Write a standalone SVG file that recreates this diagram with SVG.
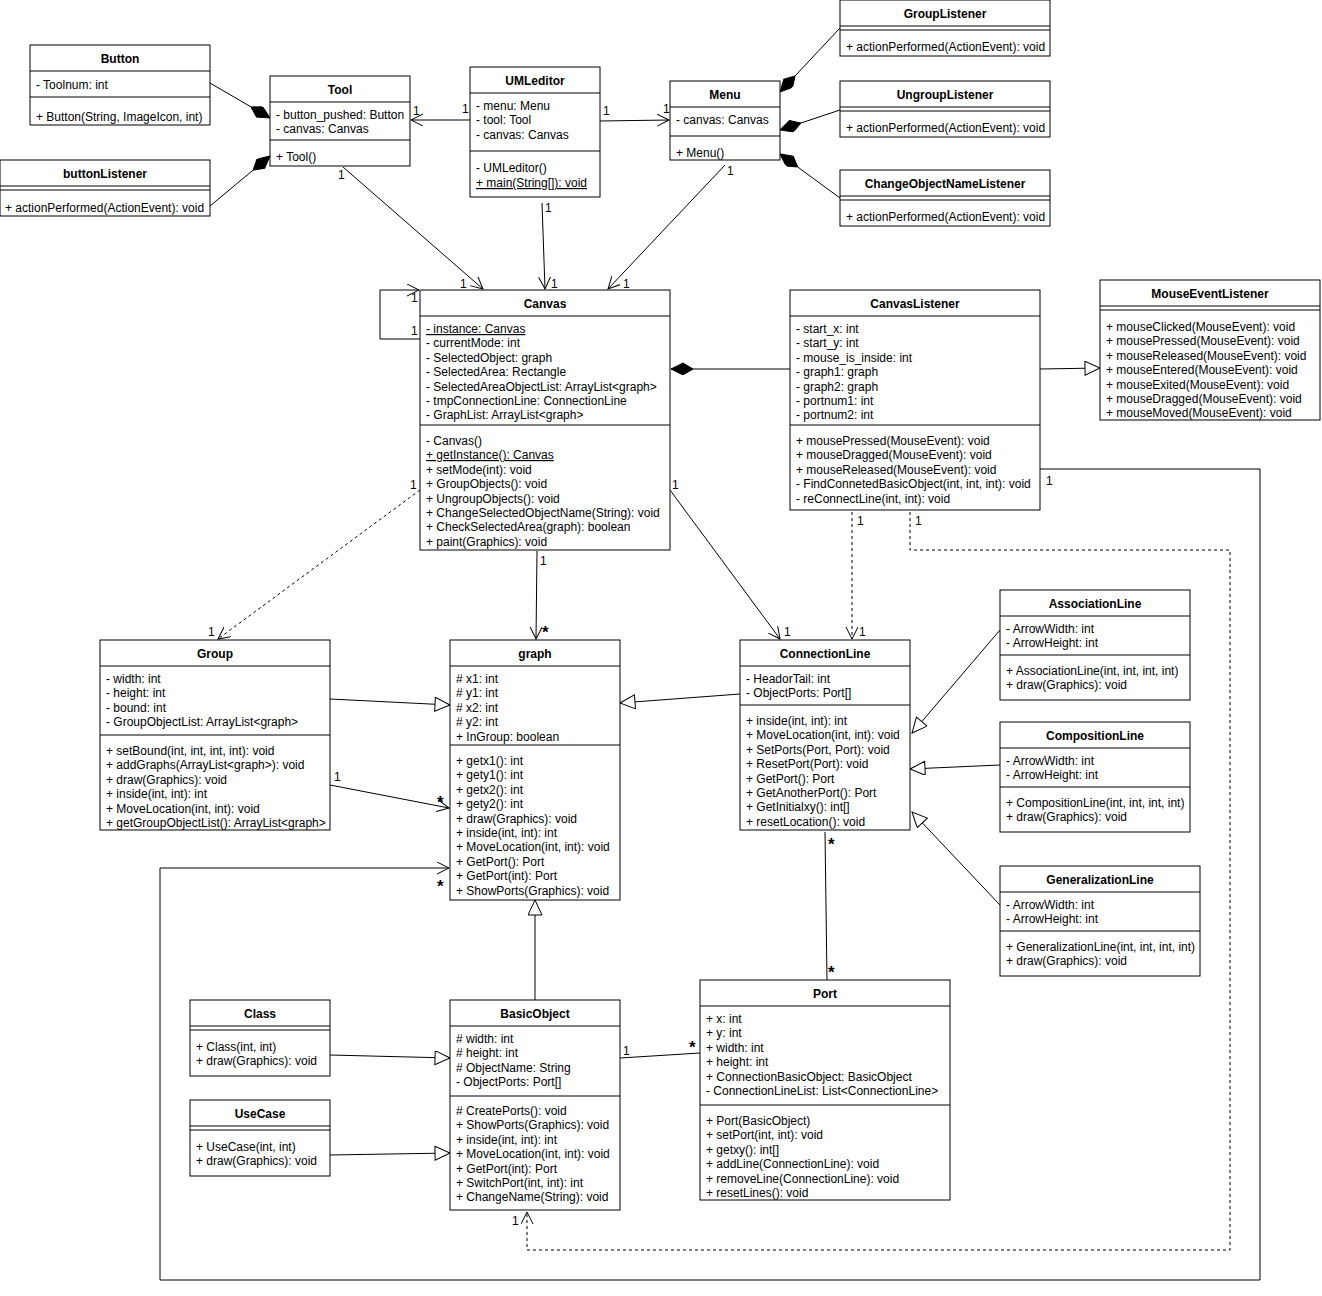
<svg xmlns="http://www.w3.org/2000/svg" width="1322" height="1296" viewBox="0 0 1322 1296">
<style>
text{font-family:"Liberation Sans",Arial,sans-serif;font-size:12px;fill:#000}
.h{font-weight:bold;text-anchor:middle}
.u{text-decoration:underline}
.m{font-size:11px}
.s{font-size:17px;font-weight:bold}
rect{fill:#fff;stroke:#000;stroke-width:1}
.n line{stroke:#000;stroke-width:1}
#conn line,#conn polyline{stroke:#000;stroke-width:1;fill:none}
.d{stroke-dasharray:3,3}
</style>
<defs>
<marker id="op" markerUnits="userSpaceOnUse" markerWidth="14" markerHeight="14" refX="12" refY="6" orient="auto"><path d="M0,0 L12,6 L0,12" fill="none" stroke="#000"/></marker>
<marker id="tr" markerUnits="userSpaceOnUse" markerWidth="18" markerHeight="16" refX="16" refY="7" orient="auto"><path d="M1,0 L16,7 L1,14 Z" fill="#fff" stroke="#000"/></marker>
<marker id="di" markerUnits="userSpaceOnUse" markerWidth="24" markerHeight="14" refX="22" refY="6" orient="auto"><path d="M0,6 L10,0 L22,6 L10,12 Z" fill="#000" stroke="#000"/></marker>
</defs>
<rect x="0" y="0" width="1322" height="1296" style="stroke:none"/>

<g id="conn">
<line x1="210" y1="83" x2="270" y2="118" marker-end="url(#di)"/>
<line x1="210" y1="206" x2="270" y2="156" marker-end="url(#di)"/>
<line x1="470" y1="120" x2="411" y2="120" marker-end="url(#op)"/>
<line x1="600" y1="121" x2="669" y2="120" marker-end="url(#op)"/>
<line x1="840" y1="28" x2="780" y2="92" marker-end="url(#di)"/>
<line x1="840" y1="110" x2="780" y2="130" marker-end="url(#di)"/>
<line x1="840" y1="198" x2="780" y2="154" marker-end="url(#di)"/>
<line x1="343" y1="167" x2="483" y2="289" marker-end="url(#op)"/>
<line x1="542" y1="203" x2="545" y2="289" marker-end="url(#op)"/>
<line x1="725" y1="165" x2="608" y2="289" marker-end="url(#op)"/>
<polyline points="420,339 380,339 380,290 419,290" marker-end="url(#op)"/>
<line x1="790" y1="369" x2="671" y2="369" marker-end="url(#di)"/>
<line x1="1040" y1="369" x2="1100" y2="368" marker-end="url(#tr)"/>
<line class="d" x1="420" y1="490" x2="218" y2="639" marker-end="url(#op)"/>
<line x1="537" y1="551" x2="536" y2="639" marker-end="url(#op)"/>
<line x1="670" y1="490" x2="780" y2="639" marker-end="url(#op)"/>
<line class="d" x1="852" y1="512" x2="852" y2="639" marker-end="url(#op)"/>
<polyline class="d" points="910,512 910,550 1230,550 1230,1250 527,1250 527,1212" marker-end="url(#op)"/>
<polyline points="1040,469 1260,469 1260,1280 160,1280 160,868 449,868" marker-end="url(#op)"/>
<line x1="330" y1="699" x2="450" y2="705" marker-end="url(#tr)"/>
<line x1="330" y1="785" x2="449" y2="808" marker-end="url(#op)"/>
<line x1="740" y1="694" x2="620" y2="703" marker-end="url(#tr)"/>
<line x1="1000" y1="630" x2="912" y2="733" marker-end="url(#tr)"/>
<line x1="1000" y1="765" x2="910" y2="769" marker-end="url(#tr)"/>
<line x1="1000" y1="905" x2="912" y2="812" marker-end="url(#tr)"/>
<line x1="825" y1="832" x2="827" y2="980"/>
<line x1="535" y1="1000" x2="535" y2="900" marker-end="url(#tr)"/>
<line x1="330" y1="1055" x2="450" y2="1058" marker-end="url(#tr)"/>
<line x1="330" y1="1155" x2="450" y2="1153" marker-end="url(#tr)"/>
<line x1="620" y1="1058" x2="700" y2="1053"/>
<text x="462" y="113">1</text><text x="413" y="115">1</text>
<text x="603" y="115">1</text><text x="663" y="113">1</text>
<text x="338" y="179">1</text><text x="460" y="288">1</text>
<text x="545" y="212">1</text><text x="551" y="288">1</text>
<text x="727" y="175">1</text><text x="623" y="288">1</text>
<text x="411" y="302">1</text><text x="411" y="335">1</text>
<text x="410" y="489">1</text><text x="208" y="636">1</text>
<text x="540" y="565">1</text><text class="s" x="542" y="638">*</text>
<text x="672" y="489">1</text><text x="784" y="636">1</text>
<text x="857" y="525">1</text><text x="859" y="636">1</text>
<text x="915" y="525">1</text><text x="512" y="1225">1</text>
<text x="1046" y="485">1</text><text class="s" x="437" y="892">*</text>
<text x="334" y="781">1</text><text class="s" x="437" y="808">*</text>
<text class="s" x="828" y="850">*</text><text class="s" x="828" y="978">*</text>
<text x="623" y="1055">1</text><text class="s" x="689" y="1053">*</text>
</g>

<g id="Button" class="n"><rect x="30" y="45" width="180" height="80"/><line x1="30" y1="71" x2="210" y2="71"/><line x1="30" y1="97" x2="210" y2="97"/>
<text class="h" x="120" y="63">Button</text><text x="36" y="89">- Toolnum: int</text><text x="36" y="121">+ Button(String, ImageIcon, int)</text></g>

<g id="buttonListener" class="n"><rect x="0" y="160" width="210" height="56"/><line x1="0" y1="186" x2="210" y2="186"/><line x1="0" y1="190" x2="210" y2="190"/>
<text class="h" x="105" y="178">buttonListener</text><text x="5" y="212">+ actionPerformed(ActionEvent): void</text></g>

<g id="Tool" class="n"><rect x="270" y="76" width="140" height="90"/><line x1="270" y1="102" x2="410" y2="102"/><line x1="270" y1="140" x2="410" y2="140"/>
<text class="h" x="340" y="94">Tool</text><text x="276" y="119">- button_pushed: Button</text><text x="276" y="133">- canvas: Canvas</text><text x="276" y="161">+ Tool()</text></g>

<g id="UMLeditor" class="n"><rect x="470" y="67" width="130" height="130"/><line x1="470" y1="93" x2="600" y2="93"/><line x1="470" y1="151" x2="600" y2="151"/>
<text class="h" x="535" y="85">UMLeditor</text><text x="476" y="110">- menu: Menu</text><text x="476" y="124">- tool: Tool</text><text x="476" y="139">- canvas: Canvas</text>
<text x="476" y="172">- UMLeditor()</text><text class="u" x="476" y="187">+ main(String[]): void</text></g>

<g id="Menu" class="n"><rect x="670" y="81" width="110" height="79"/><line x1="670" y1="107" x2="780" y2="107"/><line x1="670" y1="136" x2="780" y2="136"/>
<text class="h" x="725" y="99">Menu</text><text x="676" y="124">- canvas: Canvas</text><text x="676" y="157">+ Menu()</text></g>

<g id="GroupListener" class="n"><rect x="840" y="0" width="210" height="56"/><line x1="840" y1="26" x2="1050" y2="26"/><line x1="840" y1="30" x2="1050" y2="30"/>
<text class="h" x="945" y="18">GroupListener</text><text x="846" y="51">+ actionPerformed(ActionEvent): void</text></g>

<g id="UngroupListener" class="n"><rect x="840" y="81" width="210" height="56"/><line x1="840" y1="107" x2="1050" y2="107"/><line x1="840" y1="111" x2="1050" y2="111"/>
<text class="h" x="945" y="99">UngroupListener</text><text x="846" y="132">+ actionPerformed(ActionEvent): void</text></g>

<g id="ChangeObjectNameListener" class="n"><rect x="840" y="170" width="210" height="56"/><line x1="840" y1="196" x2="1050" y2="196"/><line x1="840" y1="200" x2="1050" y2="200"/>
<text class="h" x="945" y="188">ChangeObjectNameListener</text><text x="846" y="221">+ actionPerformed(ActionEvent): void</text></g>

<g id="Canvas" class="n"><rect x="420" y="290" width="250" height="260"/><line x1="420" y1="316" x2="670" y2="316"/><line x1="420" y1="425" x2="670" y2="425"/>
<text class="h" x="545" y="308">Canvas</text>
<text class="u" x="426" y="333">- instance: Canvas</text><text x="426" y="347">- currentMode: int</text><text x="426" y="362">- SelectedObject: graph</text><text x="426" y="376">- SelectedArea: Rectangle</text><text x="426" y="391">- SelectedAreaObjectList: ArrayList&lt;graph&gt;</text><text x="426" y="405">- tmpConnectionLine: ConnectionLine</text><text x="426" y="419">- GraphList: ArrayList&lt;graph&gt;</text>
<text x="426" y="445">- Canvas()</text><text class="u" x="426" y="459">+ getInstance(): Canvas</text><text x="426" y="474">+ setMode(int): void</text><text x="426" y="488">+ GroupObjects(): void</text><text x="426" y="503">+ UngroupObjects(): void</text><text x="426" y="517">+ ChangeSelectedObjectName(String): void</text><text x="426" y="531">+ CheckSelectedArea(graph): boolean</text><text x="426" y="546">+ paint(Graphics): void</text></g>

<g id="CanvasListener" class="n"><rect x="790" y="290" width="250" height="220"/><line x1="790" y1="316" x2="1040" y2="316"/><line x1="790" y1="425" x2="1040" y2="425"/>
<text class="h" x="915" y="308">CanvasListener</text>
<text x="796" y="333">- start_x: int</text><text x="796" y="347">- start_y: int</text><text x="796" y="362">- mouse_is_inside: int</text><text x="796" y="376">- graph1: graph</text><text x="796" y="391">- graph2: graph</text><text x="796" y="405">- portnum1: int</text><text x="796" y="419">- portnum2: int</text>
<text x="796" y="445">+ mousePressed(MouseEvent): void</text><text x="796" y="459">+ mouseDragged(MouseEvent): void</text><text x="796" y="474">+ mouseReleased(MouseEvent): void</text><text x="796" y="488">- FindConnetedBasicObject(int, int, int): void</text><text x="796" y="503">- reConnectLine(int, int): void</text></g>

<g id="MouseEventListener" class="n"><rect x="1100" y="280" width="220" height="140"/><line x1="1100" y1="306" x2="1320" y2="306"/><line x1="1100" y1="310" x2="1320" y2="310"/>
<text class="h" x="1210" y="298">MouseEventListener</text>
<text x="1106" y="331">+ mouseClicked(MouseEvent): void</text><text x="1106" y="345">+ mousePressed(MouseEvent): void</text><text x="1106" y="360">+ mouseReleased(MouseEvent): void</text><text x="1106" y="374">+ mouseEntered(MouseEvent): void</text><text x="1106" y="389">+ mouseExited(MouseEvent): void</text><text x="1106" y="403">+ mouseDragged(MouseEvent): void</text><text x="1106" y="417">+ mouseMoved(MouseEvent): void</text></g>

<g id="Group" class="n"><rect x="100" y="640" width="230" height="190"/><line x1="100" y1="666" x2="330" y2="666"/><line x1="100" y1="735" x2="330" y2="735"/>
<text class="h" x="215" y="658">Group</text>
<text x="106" y="683">- width: int</text><text x="106" y="697">- height: int</text><text x="106" y="712">- bound: int</text><text x="106" y="726">- GroupObjectList: ArrayList&lt;graph&gt;</text>
<text x="106" y="755">+ setBound(int, int, int, int): void</text><text x="106" y="769">+ addGraphs(ArrayList&lt;graph&gt;): void</text><text x="106" y="784">+ draw(Graphics): void</text><text x="106" y="798">+ inside(int, int): int</text><text x="106" y="813">+ MoveLocation(int, int): void</text><text x="106" y="827">+ getGroupObjectList(): ArrayList&lt;graph&gt;</text></g>

<g id="graph" class="n"><rect x="450" y="640" width="170" height="260"/><line x1="450" y1="666" x2="620" y2="666"/><line x1="450" y1="745" x2="620" y2="745"/>
<text class="h" x="535" y="658">graph</text>
<text x="456" y="683"># x1: int</text><text x="456" y="697"># y1: int</text><text x="456" y="712"># x2: int</text><text x="456" y="726"># y2: int</text><text x="456" y="741">+ InGroup: boolean</text>
<text x="456" y="765">+ getx1(): int</text><text x="456" y="779">+ gety1(): int</text><text x="456" y="794">+ getx2(): int</text><text x="456" y="808">+ gety2(): int</text><text x="456" y="823">+ draw(Graphics): void</text><text x="456" y="837">+ inside(int, int): int</text><text x="456" y="851">+ MoveLocation(int, int): void</text><text x="456" y="866">+ GetPort(): Port</text><text x="456" y="880">+ GetPort(int): Port</text><text x="456" y="895">+ ShowPorts(Graphics): void</text></g>

<g id="ConnectionLine" class="n"><rect x="740" y="640" width="170" height="190"/><line x1="740" y1="666" x2="910" y2="666"/><line x1="740" y1="705" x2="910" y2="705"/>
<text class="h" x="825" y="658">ConnectionLine</text>
<text x="746" y="683">- HeadorTail: int</text><text x="746" y="697">- ObjectPorts: Port[]</text>
<text x="746" y="725">+ inside(int, int): int</text><text x="746" y="739">+ MoveLocation(int, int): void</text><text x="746" y="754">+ SetPorts(Port, Port): void</text><text x="746" y="768">+ ResetPort(Port): void</text><text x="746" y="783">+ GetPort(): Port</text><text x="746" y="797">+ GetAnotherPort(): Port</text><text x="746" y="811">+ GetInitialxy(): int[]</text><text x="746" y="826">+ resetLocation(): void</text></g>

<g id="AssociationLine" class="n"><rect x="1000" y="590" width="190" height="110"/><line x1="1000" y1="616" x2="1190" y2="616"/><line x1="1000" y1="655" x2="1190" y2="655"/>
<text class="h" x="1095" y="608">AssociationLine</text><text x="1006" y="633">- ArrowWidth: int</text><text x="1006" y="647">- ArrowHeight: int</text><text x="1006" y="675">+ AssociationLine(int, int, int, int)</text><text x="1006" y="689">+ draw(Graphics): void</text></g>

<g id="CompositionLine" class="n"><rect x="1000" y="722" width="190" height="110"/><line x1="1000" y1="748" x2="1190" y2="748"/><line x1="1000" y1="787" x2="1190" y2="787"/>
<text class="h" x="1095" y="740">CompositionLine</text><text x="1006" y="765">- ArrowWidth: int</text><text x="1006" y="779">- ArrowHeight: int</text><text x="1006" y="807">+ CompositionLine(int, int, int, int)</text><text x="1006" y="821">+ draw(Graphics): void</text></g>

<g id="GeneralizationLine" class="n"><rect x="1000" y="866" width="200" height="110"/><line x1="1000" y1="892" x2="1200" y2="892"/><line x1="1000" y1="931" x2="1200" y2="931"/>
<text class="h" x="1100" y="884">GeneralizationLine</text><text x="1006" y="909">- ArrowWidth: int</text><text x="1006" y="923">- ArrowHeight: int</text><text x="1006" y="951">+ GeneralizationLine(int, int, int, int)</text><text x="1006" y="965">+ draw(Graphics): void</text></g>

<g id="Class" class="n"><rect x="190" y="1000" width="140" height="76"/><line x1="190" y1="1026" x2="330" y2="1026"/><line x1="190" y1="1030" x2="330" y2="1030"/>
<text class="h" x="260" y="1018">Class</text><text x="196" y="1051">+ Class(int, int)</text><text x="196" y="1065">+ draw(Graphics): void</text></g>

<g id="UseCase" class="n"><rect x="190" y="1100" width="140" height="76"/><line x1="190" y1="1126" x2="330" y2="1126"/><line x1="190" y1="1130" x2="330" y2="1130"/>
<text class="h" x="260" y="1118">UseCase</text><text x="196" y="1151">+ UseCase(int, int)</text><text x="196" y="1165">+ draw(Graphics): void</text></g>

<g id="BasicObject" class="n"><rect x="450" y="1000" width="170" height="210"/><line x1="450" y1="1026" x2="620" y2="1026"/><line x1="450" y1="1096" x2="620" y2="1096"/>
<text class="h" x="535" y="1018">BasicObject</text>
<text x="456" y="1043"># width: int</text><text x="456" y="1057"># height: int</text><text x="456" y="1072"># ObjectName: String</text><text x="456" y="1086">- ObjectPorts: Port[]</text>
<text x="456" y="1115"># CreatePorts(): void</text><text x="456" y="1129">+ ShowPorts(Graphics): void</text><text x="456" y="1144">+ inside(int, int): int</text><text x="456" y="1158">+ MoveLocation(int, int): void</text><text x="456" y="1173">+ GetPort(int): Port</text><text x="456" y="1187">+ SwitchPort(int, int): int</text><text x="456" y="1201">+ ChangeName(String): void</text></g>

<g id="Port" class="n"><rect x="700" y="980" width="250" height="220"/><line x1="700" y1="1006" x2="950" y2="1006"/><line x1="700" y1="1105" x2="950" y2="1105"/>
<text class="h" x="825" y="998">Port</text>
<text x="706" y="1023">+ x: int</text><text x="706" y="1037">+ y: int</text><text x="706" y="1052">+ width: int</text><text x="706" y="1066">+ height: int</text><text x="706" y="1081">+ ConnectionBasicObject: BasicObject</text><text x="706" y="1095">- ConnectionLineList: List&lt;ConnectionLine&gt;</text>
<text x="706" y="1125">+ Port(BasicObject)</text><text x="706" y="1139">+ setPort(int, int): void</text><text x="706" y="1154">+ getxy(): int[]</text><text x="706" y="1168">+ addLine(ConnectionLine): void</text><text x="706" y="1183">+ removeLine(ConnectionLine): void</text><text x="706" y="1197">+ resetLines(): void</text></g>
</svg>
